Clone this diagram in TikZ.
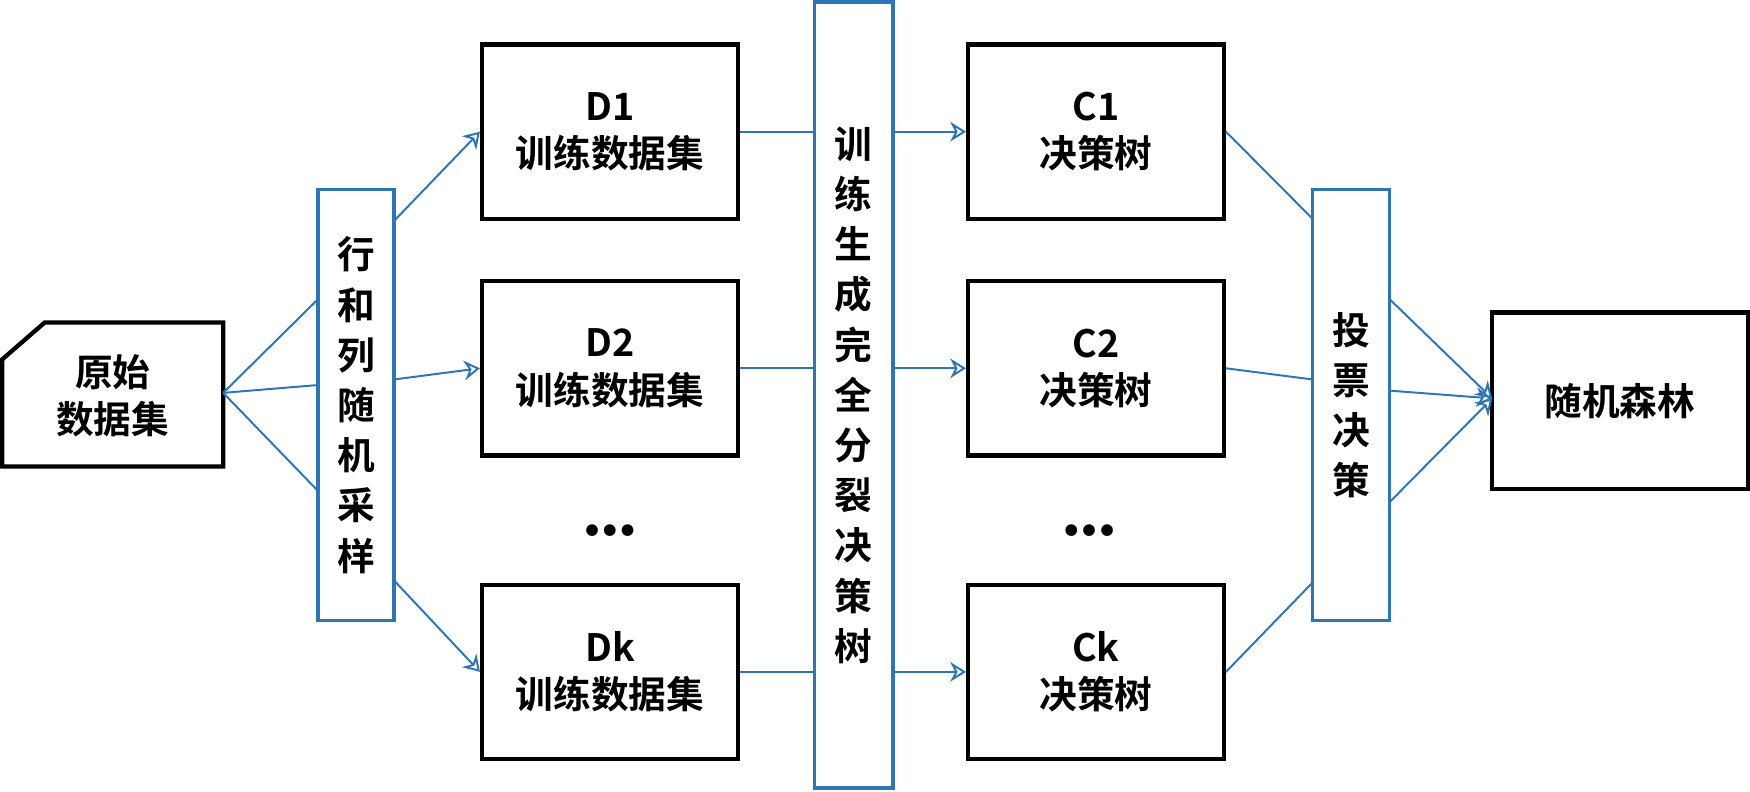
\documentclass[tikz,border=0pt]{standalone}
\usepackage{fontspec}
\setmainfont{Noto Sans CJK SC Bold}
\usetikzlibrary{arrows.meta}
\definecolor{bl}{RGB}{46,117,182}
\begin{document}
\begin{tikzpicture}[x=0.01cm,y=-0.01cm,
  bbox/.style={draw=black,line width=1.1pt,minimum width=2.29cm,minimum height=1.56cm,align=center,font=\fontsize{9.6}{12}\selectfont,inner sep=0pt},
  vbar/.style={draw=bl,line width=0.9pt,align=center,font=\fontsize{9.6}{12.8}\selectfont,inner sep=0pt},
  ln/.style={draw=bl,line width=0.5pt},
  ar/.style={ln,-{Stealth[open,length=4pt,width=5pt]}}]
\useasboundingbox (0,0) rectangle (1568,709);
% source
\draw[line width=1.1pt] (2,322) -- (40,289) -- (200,289) -- (200,418) -- (2,418) -- cycle;
\node[align=center,font=\fontsize{9.6}{12}\selectfont] (src) at (101,355) {原始\\数据集};
\coordinate (s) at (200,352);
% sampling bar
\node[vbar,minimum width=0.68cm,minimum height=3.86cm] (samp) at (319,363) {行\\和\\列\\随\\机\\采\\样};
% D boxes
\node[bbox] (d1) at (546.5,118) {D1\\训练数据集};
\node[bbox] (d2) at (546.5,330) {D2\\训练数据集};
\node[bbox] (dk) at (546.5,602) {Dk\\训练数据集};
\node[font=\fontsize{7}{9}\selectfont] (dd) at (546.5,476) {$\bullet\!\bullet\!\bullet$};
% middle bar
\node[vbar,minimum width=0.70cm,minimum height=7.04cm] (mid) at (765,354) {训\\练\\生\\成\\完\\全\\分\\裂\\决\\策\\树};
% C boxes
\node[bbox] (c1) at (982,118) {C1\\决策树};
\node[bbox] (c2) at (982,330) {C2\\决策树};
\node[bbox] (ck) at (982,602) {Ck\\决策树};
\node[font=\fontsize{7}{9}\selectfont] (cd) at (976,476) {$\bullet\!\bullet\!\bullet$};
% vote bar
\node[vbar,minimum width=0.69cm,minimum height=3.86cm] (vote) at (1210.5,363) {投\\票\\决\\策};
% forest
\node[bbox,minimum height=1.58cm] (rf) at (1451.5,359) {随机森林};
% connectors
\draw[ln] (s) -- (285,268); \draw[ln] (s) -- (285,345); \draw[ln] (s) -- (285,440);
\draw[ar] (353,198) -- (d1.west);
\draw[ar] (353,340) -- (d2.west);
\draw[ar] (353,520) -- (dk.west);
\draw[ln] (d1.east) -- (mid.west |- d1.east);
\draw[ln] (d2.east) -- (mid.west |- d2.east);
\draw[ln] (dk.east) -- (mid.west |- dk.east);
\draw[ar] (mid.east |- c1.west) -- (c1.west);
\draw[ar] (mid.east |- c2.west) -- (c2.west);
\draw[ar] (mid.east |- ck.west) -- (ck.west);
\draw[ln] (c1.east) -- (1176,196);
\draw[ln] (c2.east) -- (1176,340);
\draw[ln] (ck.east) -- (1176,522);
\coordinate (r) at (1337,357);
\draw[ar] (1245,268) -- (r);
\draw[ar] (1245,350) -- (r);
\draw[ar] (1245,450) -- (r);
\end{tikzpicture}
\end{document}
